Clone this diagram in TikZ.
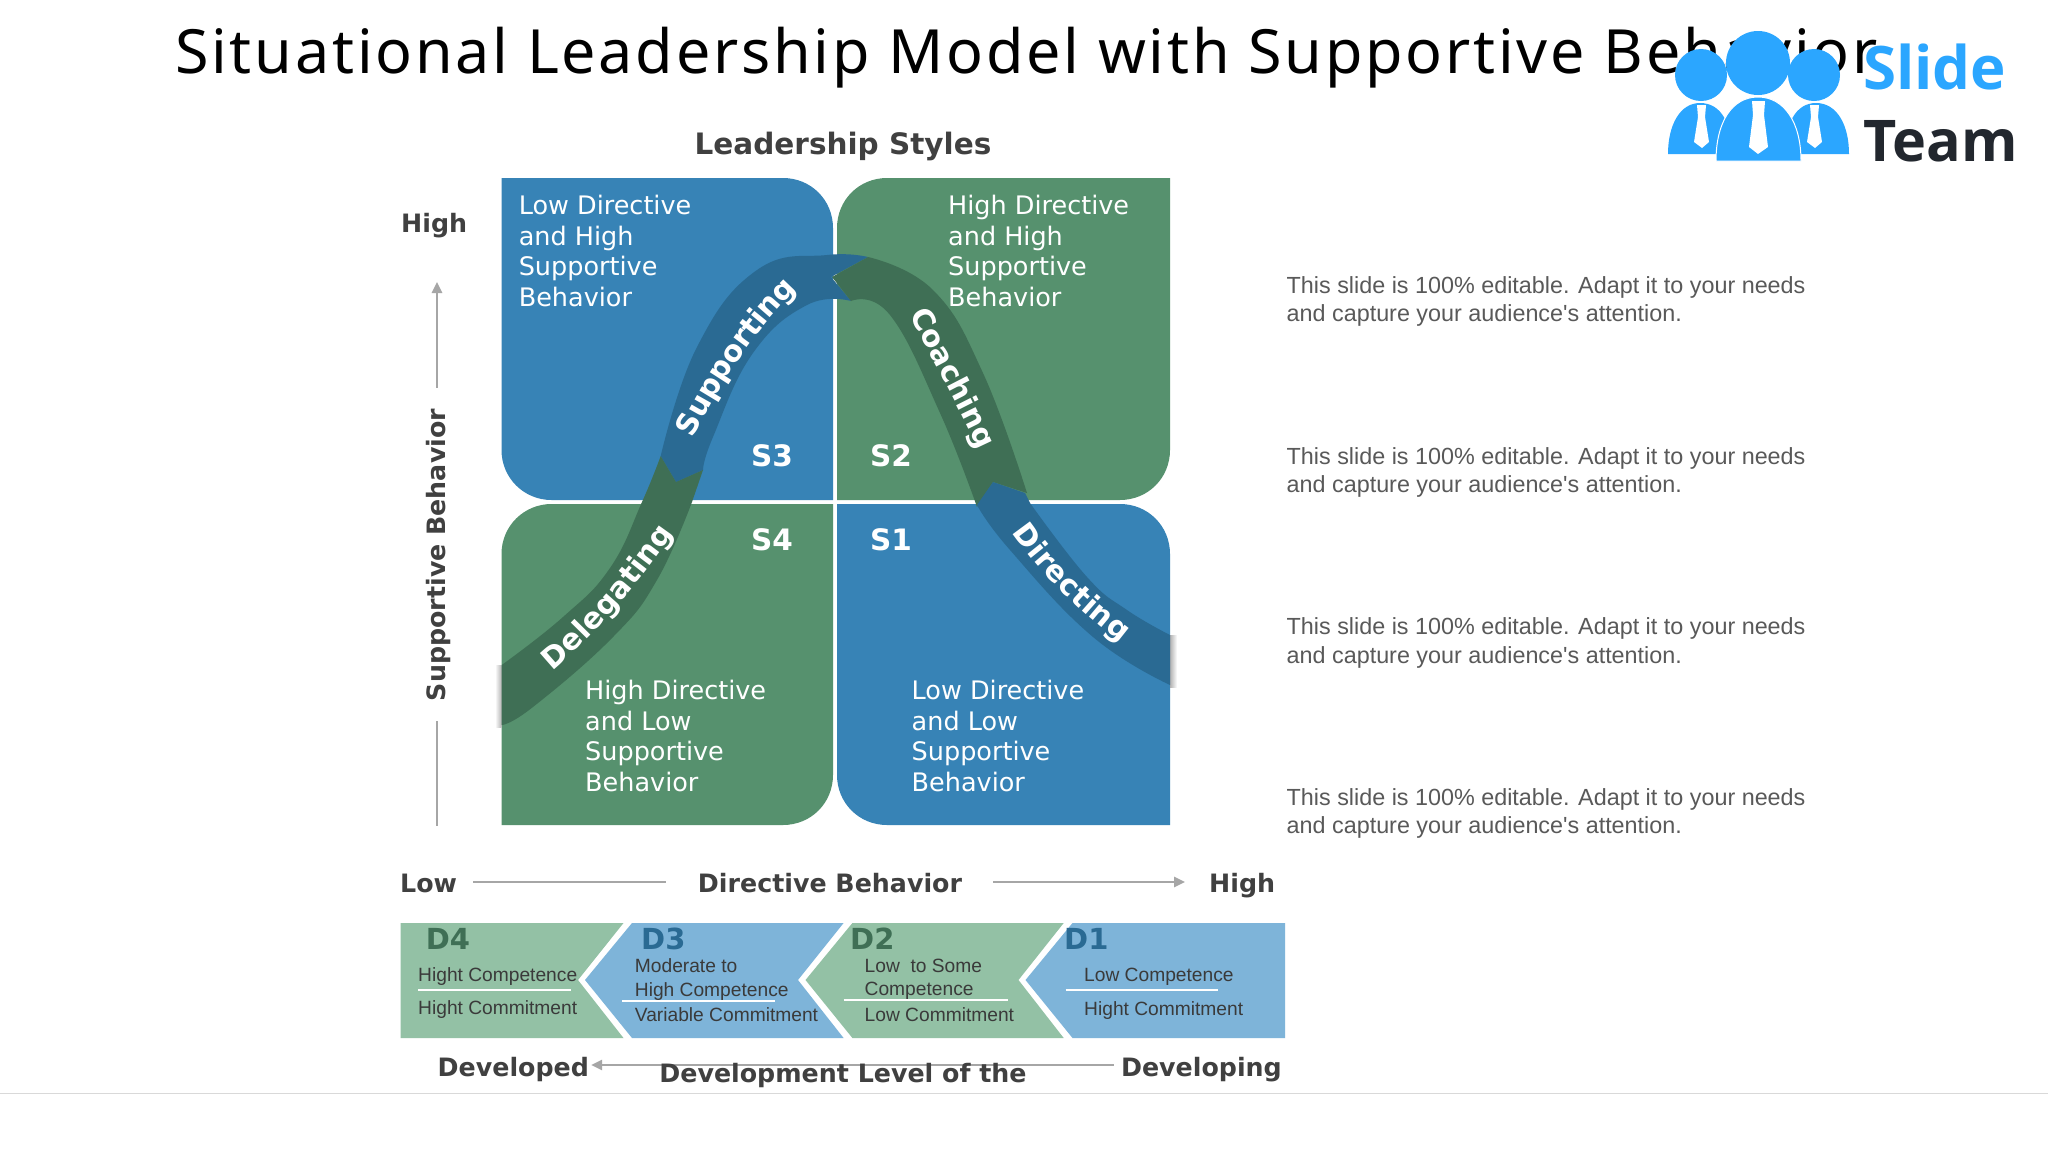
\documentclass[tikz,border=0pt]{standalone}
\usepackage{fontspec}
\setmainfont{DejaVu Sans}
\newfontfamily\titlefont[LetterSpace=4.55]{Noto Sans}
\newfontfamily\arialfont{Liberation Sans}
\newfontfamily\logofont{Open Sans}
\usetikzlibrary{arrows.meta,decorations.text}
\definecolor{qblue}{HTML}{3783B6}
\definecolor{qgreen}{HTML}{56916E}
\definecolor{bandblue}{HTML}{2A6A93}
\definecolor{bandgreen}{HTML}{3F6F55}
\definecolor{lblue}{HTML}{7EB4D9}
\definecolor{lgreen}{HTML}{93C1A5}
\definecolor{ink}{HTML}{404040}
\definecolor{axisgrey}{HTML}{A6A6A6}
\definecolor{logoblue}{HTML}{2BA6FF}
\definecolor{logodark}{HTML}{22272E}
\tikzset{
  quad/.style={inner sep=0pt,anchor=west,align=left,text=white,font=\fontsize{25.5}{30.7}\selectfont},
  slabel/.style={inner sep=0pt,anchor=west,text=white,font=\fontsize{29.5}{32}\selectfont\bfseries},
  axislabel/.style={inner sep=0pt,text=ink,font=\fontsize{25.3}{30}\selectfont\bfseries},
  axisline/.style={draw=axisgrey,line width=2.5pt},
  axisarrow/.style={axisline,-{Triangle[length=11pt,width=10pt]}},
  body/.style={inner sep=0pt,anchor=west,align=left,text=ink!90!black,font=\arialfont\fontsize{19.2}{23.5}\selectfont},
  dlabel/.style={inner sep=0pt,anchor=west,font=\fontsize{29}{32}\selectfont\bfseries},
  rule/.style={draw=white,line width=2.2pt},
  note/.style={inner sep=0pt,anchor=west,align=left,text=black!65,font=\arialfont\fontsize{23.35}{28.5}\selectfont},
  curvetext/.style={decorate,decoration={text along path,text align=center,raise=-10pt,
      text={|\fontsize{29.5}{32}\selectfont\bfseries\color{white}|#1}}}
}
\begin{document}
\begin{tikzpicture}[x=1pt,y=-1pt]
\useasboundingbox (0,0) rectangle (2048,1152);
\fill[white] (0,0) rectangle (2048,1152);

% title
\node[inner sep=0pt,anchor=base west,text=black,font=\titlefont\fontsize{61}{66}\selectfont] (title) at (175,73) {Situational Leadership Model with Supportive Behavior};

% quadrants
\fill[qblue] (501.5,178) -- (783,178) .. controls (811,178) and (833,200) .. (833,228) -- (833,500) -- (551.5,500) .. controls (524,500) and (501.5,478) .. (501.5,450) -- cycle;
\fill[qgreen] (887,178) -- (1170,178) -- (1170,450) .. controls (1170,478) and (1148,500) .. (1120,500) -- (837,500) -- (837,228) .. controls (837,200) and (859,178) .. (887,178) -- cycle;
\fill[qgreen] (551.5,504) -- (833,504) -- (833,775) .. controls (833,803) and (811,825) .. (783,825) -- (501.5,825) -- (501.5,554) .. controls (501.5,526) and (524,504) .. (551.5,504) -- cycle;
\fill[qblue] (837,504) -- (1120,504) .. controls (1148,504) and (1170,526) .. (1170,554) -- (1170,825) -- (887,825) .. controls (859,825) and (837,803) .. (837,775) -- cycle;

% soft band ends
\shade[left color=white,right color=black!30] (495,665) rectangle (501.7,727);
\shade[left color=black!30,right color=white] (1170,635) rectangle (1177,687);

% bands
\fill[bandblue] plot[smooth,tension=.75] coordinates {(660.7,456) (697,347) (757,270) (827,255) (868,257)} -- (831,277) -- (851,301) -- plot[smooth,tension=.75] coordinates {(851,301) (807,305) (753,353) (713,437) (703,470)} -- (676,482) -- cycle;
\fill[bandgreen] plot[smooth,tension=.75] coordinates {(501.7,665) (563,617) (610,568) (642,502) (660.7,456)} -- (676,482) -- (703,470) -- plot[smooth,tension=.75] coordinates {(692,502) (657,580) (613,637) (533,707) (501.7,725)} -- cycle;
\fill[bandgreen] (832,277) -- plot[smooth,tension=.75] coordinates {(868,257) (933,290) (983,373) (1027,493)} -- (993,482) -- plot[smooth,tension=.75] coordinates {(977,507) (940,413) (890,315) (851,301)} -- cycle;
\fill[bandblue] (993,482) -- (1025,493) -- plot[smooth,tension=.75] coordinates {(1030,503) (1087,577) (1127,610) (1170,635)} -- plot[smooth,tension=.75] coordinates {(1170,685) (1093,637) (1010,550) (977,505)} -- cycle;

% band labels
\path[curvetext=Supporting] (680,440) .. controls (708,385) and (745,325) .. (795,277);
\path[curvetext=Coaching] (917,307) .. controls (935,344) and (964,394) .. (989,449);
\path[curvetext=Delegating] (541,667) .. controls (581,635) and (626,585) .. (669,523);
\path[curvetext=Directing] (1017,522) .. controls (1049,569) and (1084,602) .. (1131,638);

% quadrant texts
\node[quad] (q3) at (518.6,251) {Low Directive\\and High\\Supportive\\Behavior};
\node[quad] (q2) at (948,251) {High Directive\\and High\\Supportive\\Behavior};
\node[quad] (q4) at (585,736) {High Directive\\and Low\\Supportive\\Behavior};
\node[quad] (q1) at (911.5,736) {Low Directive\\and Low\\Supportive\\Behavior};
\node[slabel] (s3) at (751,456) {S3};
\node[slabel] (s2) at (870,456) {S2};
\node[slabel] (s4) at (751,540) {S4};
\node[slabel] (s1) at (870,540) {S1};

% heading and axes
\node[axislabel,font=\fontsize{29.5}{32}\selectfont\bfseries] (styles) at (843,146.5) {Leadership Styles};
\node[axislabel,anchor=base west] (yhigh) at (401,232) {High};
\node[axislabel,rotate=90] (yaxis) at (439,555) {Supportive Behavior};
\coordinate (ytop) at (437,282);
\coordinate (ybottom) at (437,826);
\draw[axisline] (yaxis.west) ++(-2,20) -- (ybottom);
\draw[axisarrow] (yaxis.east) ++(-2,-21) -- (ytop);
\node[axislabel,anchor=base west] (xlow) at (400,892) {Low};
\node[axislabel,anchor=base] (xaxis) at (830,892) {Directive Behavior};
\node[axislabel,anchor=base west] (xhigh) at (1209,892) {High};
\coordinate (xl) at (xlow.east |- 0,882);
\coordinate (xa) at (xaxis.west |- 0,882);
\coordinate (xb) at (xaxis.east |- 0,882);
\coordinate (xh) at (xhigh.west |- 0,882);
\draw[axisline] ([xshift=16pt]xl) -- ([xshift=-32pt]xa);
\draw[axisarrow] ([xshift=31pt]xb) -- ([xshift=-24pt]xh);

% development chevrons
\fill[lgreen] (400.5,923) -- (623.5,923) -- (578,980) -- (623.5,1038) -- (400.5,1038) -- cycle;
\fill[lblue] (632,923) -- (843.6,923) -- (798,980) -- (843.6,1038) -- (632,1038) -- (585,980) -- cycle;
\fill[lgreen] (852.4,923) -- (1063.7,923) -- (1018.5,980) -- (1063.7,1038) -- (852.4,1038) -- (805.5,980) -- cycle;
\fill[lblue] (1072.5,923) -- (1285,923) -- (1285,1038) -- (1072.5,1038) -- (1025.5,980) -- cycle;

\node[dlabel,text=bandgreen] (d4) at (425.7,939) {D4};
\node[dlabel,text=bandblue] (d3) at (641,939) {D3};
\node[dlabel,text=bandgreen] (d2) at (850,939) {D2};
\node[dlabel,text=bandblue] (d1) at (1064,939) {D1};

\node[body] (d4a) at (418,977) {Hight Competence};
\node[body] (d4b) at (418,1009.5) {Hight Commitment};
\draw[rule] (418,990) -- (571,990);
\node[body] (d3a) at (634.7,979.5) {Moderate to\\High Competence};
\node[body] (d3b) at (634.7,1015) {Variable Commitment};
\draw[rule] (622,1000.7) -- (775,1000.7);
\node[body] (d2a) at (864.5,979.5) {Low\ \ to Some\\Competence};
\node[body] (d2b) at (864.5,1015) {Low Commitment};
\draw[rule] (843.6,1000) -- (1008,1000);
\node[body] (d1a) at (1084,976.5) {Low Competence};
\node[body] (d1b) at (1084,1010.5) {Hight Commitment};
\draw[rule] (1065.5,990) -- (1218,990);

% development axis
\node[axislabel,anchor=base west] (developed) at (437.5,1076) {Developed};
\node[axislabel,anchor=base east] (developing) at (1282,1076) {Developing};
\coordinate (dl) at (developing.west |- 0,1065);
\coordinate (dr) at (developed.east |- 0,1065);
\draw[axisarrow] ([xshift=-7pt]dl) -- ([xshift=2pt]dr);
\node[axislabel,anchor=base] (devlevel) at (843,1082) {Development Level of the};
\draw[draw=black!15,line width=1.2pt] (0,1093.5) -- (2048,1093.5);

% notes
\node[note] (n1) at (1286.5,301.5) {This slide is 100\% editable. Adapt it to your needs\\and capture your audience's attention.};
\node[note] (n2) at (1286.5,472.5) {This slide is 100\% editable. Adapt it to your needs\\and capture your audience's attention.};
\node[note] (n3) at (1286.5,643) {This slide is 100\% editable. Adapt it to your needs\\and capture your audience's attention.};
\node[note] (n4) at (1286.5,813.5) {This slide is 100\% editable. Adapt it to your needs\\and capture your audience's attention.};

% logo
\fill[logoblue] (1668,154) .. controls (1668,125) and (1680,103) .. (1700,103) .. controls (1722,103) and (1732,125) .. (1732,154) -- cycle;
\fill[logoblue] (1785,154) .. controls (1785,125) and (1795,103) .. (1816,103) .. controls (1837,103) and (1849,125) .. (1849,154) -- cycle;
\fill[logoblue,draw=white,line width=1pt] (1716,161) .. controls (1716,122) and (1732,97) .. (1758,97) .. controls (1784,97) and (1801,122) .. (1801,161) -- cycle;
\fill[logoblue] (1701,75) circle (26) (1758,63) circle (32) (1814,75) circle (26);
\fill[white] (1752,101) -- (1765,101) -- (1764,115) -- (1768,147) -- (1758,154) -- (1749,147) -- (1753,115) -- cycle;
\fill[white] (1697,105) -- (1706,105) -- (1705,117) -- (1709,142) -- (1702,148) -- (1694,142) -- (1698,117) -- cycle;
\fill[white] (1810,105) -- (1819,105) -- (1818,117) -- (1822,142) -- (1815,148) -- (1807,142) -- (1811,117) -- cycle;
\node[inner sep=0pt,anchor=base west,text=logoblue,font=\logofont\fontsize{60}{60}\selectfont\bfseries] (slide) at (1863,89) {Slide};
\node[inner sep=0pt,anchor=base west,text=logodark,font=\logofont\fontsize{57.5}{60}\selectfont\bfseries] (team) at (1863,161) {Team};
\end{tikzpicture}
\end{document}
